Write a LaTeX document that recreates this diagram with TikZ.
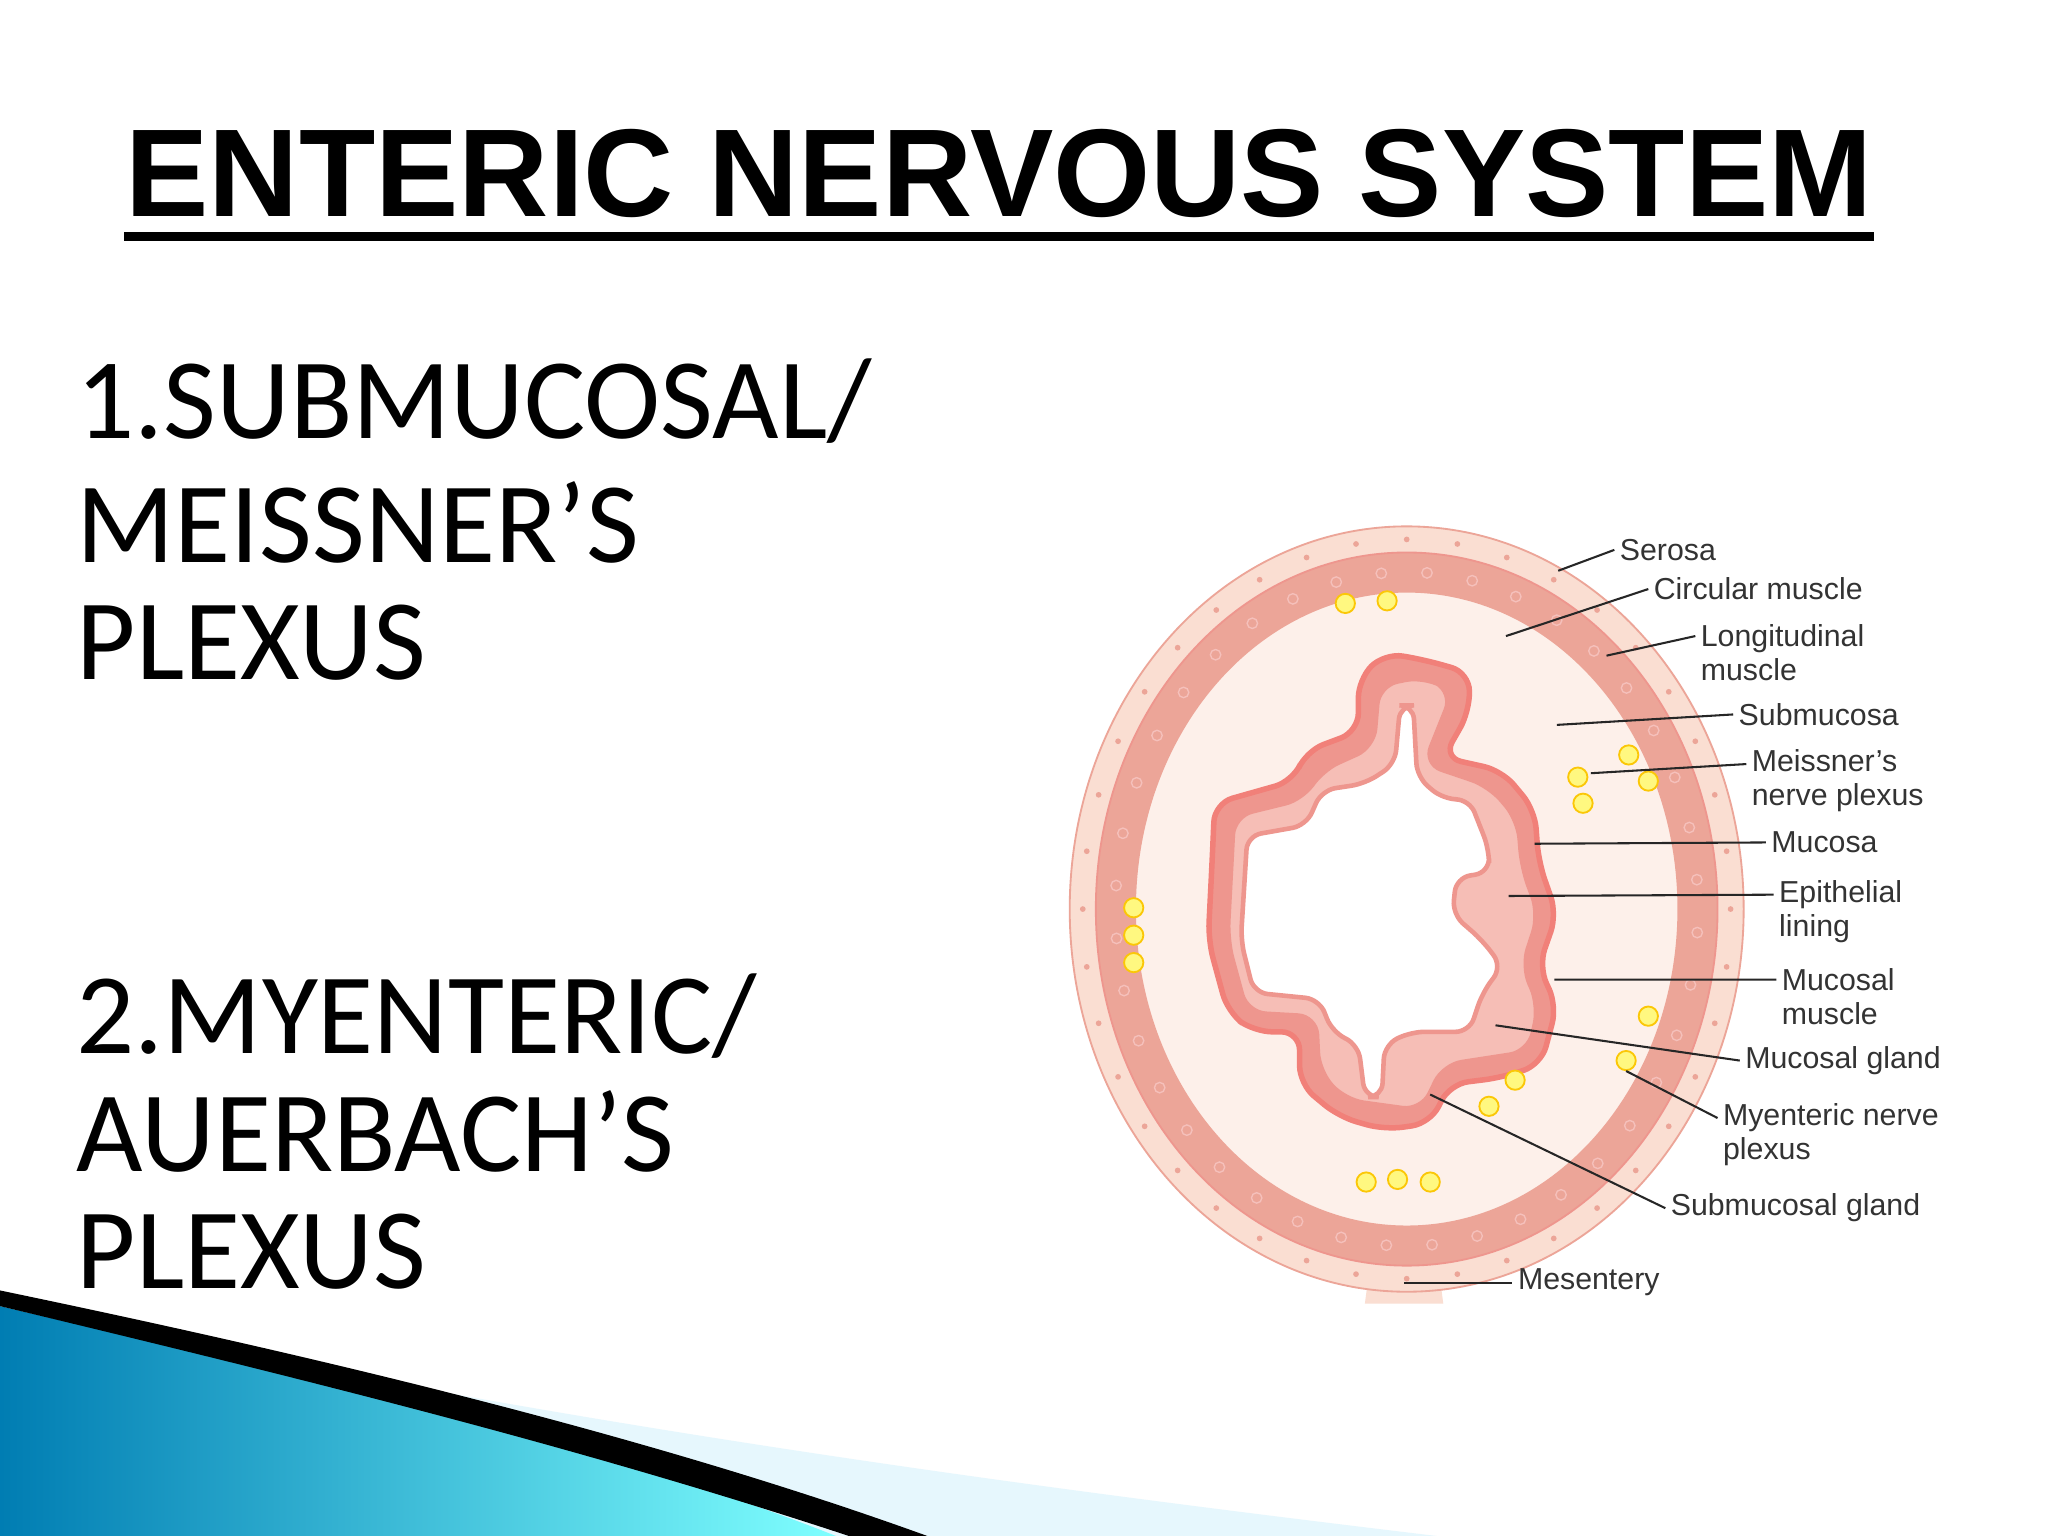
\documentclass[tikz,border=0pt]{standalone}
\usepackage{fontspec}
\setmainfont{Liberation Sans}
\newfontfamily\calib{Carlito}
\definecolor{musc}{RGB}{236,165,152}
\definecolor{sero}{RGB}{250,222,210}
\definecolor{subm}{RGB}{253,240,234}
\definecolor{muco}{RGB}{238,150,142}
\definecolor{mucl}{RGB}{246,190,182}
\begin{document}
\begin{tikzpicture}[x=0.01cm,y=-0.01cm,
 lbl/.style={anchor=west,align=left,font=\fontsize{6.6}{7.4}\selectfont,text=black!80,inner sep=1pt},
 ld/.style={draw=black!85,line width=0.45pt},
 gl/.style={circle,fill=yellow!50!white,draw=yellow!60!orange,line width=0.4pt,minimum size=4.2pt,inner sep=0pt},
 big/.style={anchor=west,font=\calib\fontsize{25}{26}\selectfont,inner sep=0pt}]
\useasboundingbox (0,0) rectangle (1568,1176);
\fill[white] (0,0) rectangle (1568,1176);
% title
\node[font=\bfseries\fontsize{27.2}{30}\selectfont,inner sep=0pt] (title) at (765,133) {ENTERIC NERVOUS SYSTEM};
\draw[line width=2pt] (95,181) -- (1435,181);
% left text
\node[big] (l1) at (58,307) {1.SUBMUCOSAL/};
\node[big] (l2) at (58,400) {MEISSNER’S};
\node[big] (l3) at (58,492) {PLEXUS};
\node[big] (l4) at (58,778) {2.MYENTERIC/};
\node[big] (l5) at (58,866) {AUERBACH’S};
\node[big] (l6) at (58,958) {PLEXUS};
% swoosh
\fill[cyan!10!white] (150,1030) .. controls (500,1100) and (800,1140) .. (1100,1176) -- (600,1176) -- cycle;
\shade[left color=cyan!70!blue!70!black, right color=cyan!50!white] (0,1000) .. controls (300,1070) and (500,1120) .. (640,1176) -- (0,1176) -- cycle;
\fill[black] (0,988) .. controls (250,1040) and (500,1100) .. (710,1176) -- (650,1176) .. controls (450,1110) and (250,1060) .. (0,1000) -- cycle;
% diagram
\fill[sero] (1050,960) -- (1100,960) -- (1105,998) -- (1045,998) -- cycle;
\filldraw[fill=sero,draw=musc] (1077,696) ellipse (258 and 293);
\filldraw[fill=musc,draw=muco] (1077,696) ellipse (238 and 273);
\filldraw[fill=subm,draw=musc] (1077,696) ellipse (208 and 243);
\foreach \a in {0,9,...,359}{\fill[musc] ({1077+248*cos(\a)},{696+283*sin(\a)}) circle (2.2);}
\foreach \a in {4,13,...,359}{\draw[muco!60!white,line width=0.3pt] ({1077+223*cos(\a)},{696+258*sin(\a)}) circle (4);}
% mucosa
\filldraw[fill=muco,draw=muco!85!red,line width=1.2pt,rounded corners=4]
 (930,615) -- (990,598) -- (1000,575) -- (1040,560) -- (1040,520) -- (1060,500) -- (1090,505) -- (1125,515) -- (1125,545) -- (1105,580) -- (1150,590) -- (1175,620) -- (1178,660) -- (1192,700) -- (1178,740) -- (1192,770) -- (1180,815) -- (1150,825) -- (1110,830) -- (1095,860) -- (1060,865) -- (1025,855) -- (995,830) -- (995,790) -- (960,790) -- (940,775) -- (925,720) -- (928,660) -- cycle;
\filldraw[fill=mucl,draw=muco,line width=0.8pt,rounded corners=4]
 (945,625) -- (998,612) -- (1012,590) -- (1052,572) -- (1056,525) -- (1090,518) -- (1112,530) -- (1090,585) -- (1140,602) -- (1162,628) -- (1165,665) -- (1178,700) -- (1165,740) -- (1178,770) -- (1170,805) -- (1105,815) -- (1088,850) -- (1030,842) -- (1010,820) -- (1008,778) -- (955,775) -- (940,720) -- cycle;
\filldraw[fill=white,draw=muco,line width=1pt,rounded corners=3]
 (955,640) -- (1000,632) -- (1012,605) -- (1045,600) -- (1068,585) -- (1072,540) -- (1082,540) -- (1085,595) -- (1105,612) -- (1125,612) -- (1140,650) -- (1140,668) -- (1115,672) -- (1112,700) -- (1135,720) -- (1150,740) -- (1135,760) -- (1125,790) -- (1080,790) -- (1060,800) -- (1058,840) -- (1045,840) -- (1040,800) -- (1020,790) -- (1010,765) -- (960,760) -- (950,720) -- cycle;
% glands
\foreach \p in {(1030,462),(1062,460),(1208,595),(1212,615),(1247,578),(1262,598),(868,695),(868,716),(868,737),(1160,827),(1140,847),(1262,778),(1245,812),(1046,905),(1070,903),(1095,905)}{\node[gl] at \p {};}
% labels
\node[lbl] (t1) at (1236,421) {Serosa};
\node[lbl] (t2) at (1262,451) {Circular muscle};
\node[lbl] (t3) at (1298,500) {Longitudinal\\muscle};
\node[lbl] (t4) at (1327,547) {Submucosa};
\node[lbl] (t5) at (1337,598) {Meissner's\\nerve plexus};
\node[lbl] (t6) at (1352,645) {Mucosa};
\node[lbl] (t7) at (1358,698) {Epithelial\\lining};
\node[lbl] (t8) at (1360,763) {Mucosal\\muscle};
\node[lbl] (t9) at (1332,812) {Mucosal gland};
\node[lbl] (t10) at (1315,869) {Myenteric nerve\\plexus};
\node[lbl] (t11) at (1275,925) {Submucosal gland};
\node[lbl] (t12) at (1158,982) {Mesentery};
\coordinate (p1) at (1193,437); \coordinate (p2) at (1153,487); \coordinate (p3) at (1230,502);
\coordinate (p4) at (1192,555); \coordinate (p5) at (1218,592); \coordinate (p6) at (1175,646);
\coordinate (p7) at (1155,686); \coordinate (p8) at (1190,750); \coordinate (p9) at (1145,785);
\coordinate (p10) at (1245,820); \coordinate (p11) at (1095,838); \coordinate (p12) at (1075,982);
\draw[ld] (p1) -- (t1.west);
\draw[ld] (p2) -- (t2.west);
\draw[ld] (p3) -- ([yshift=3.7pt]t3.west);
\draw[ld] (p4) -- (t4.west);
\draw[ld] (p5) -- ([yshift=3.7pt]t5.west);
\draw[ld] (p6) -- (t6.west);
\draw[ld] (p7) -- ([yshift=3.7pt]t7.west);
\draw[ld] (p8) -- ([yshift=3.7pt]t8.west);
\draw[ld] (p9) -- (t9.west);
\draw[ld] (p10) -- ([yshift=3.7pt]t10.west);
\draw[ld] (p11) -- (t11.west);
\draw[ld] (p12) -- (t12.west);
\end{tikzpicture}
\end{document}
